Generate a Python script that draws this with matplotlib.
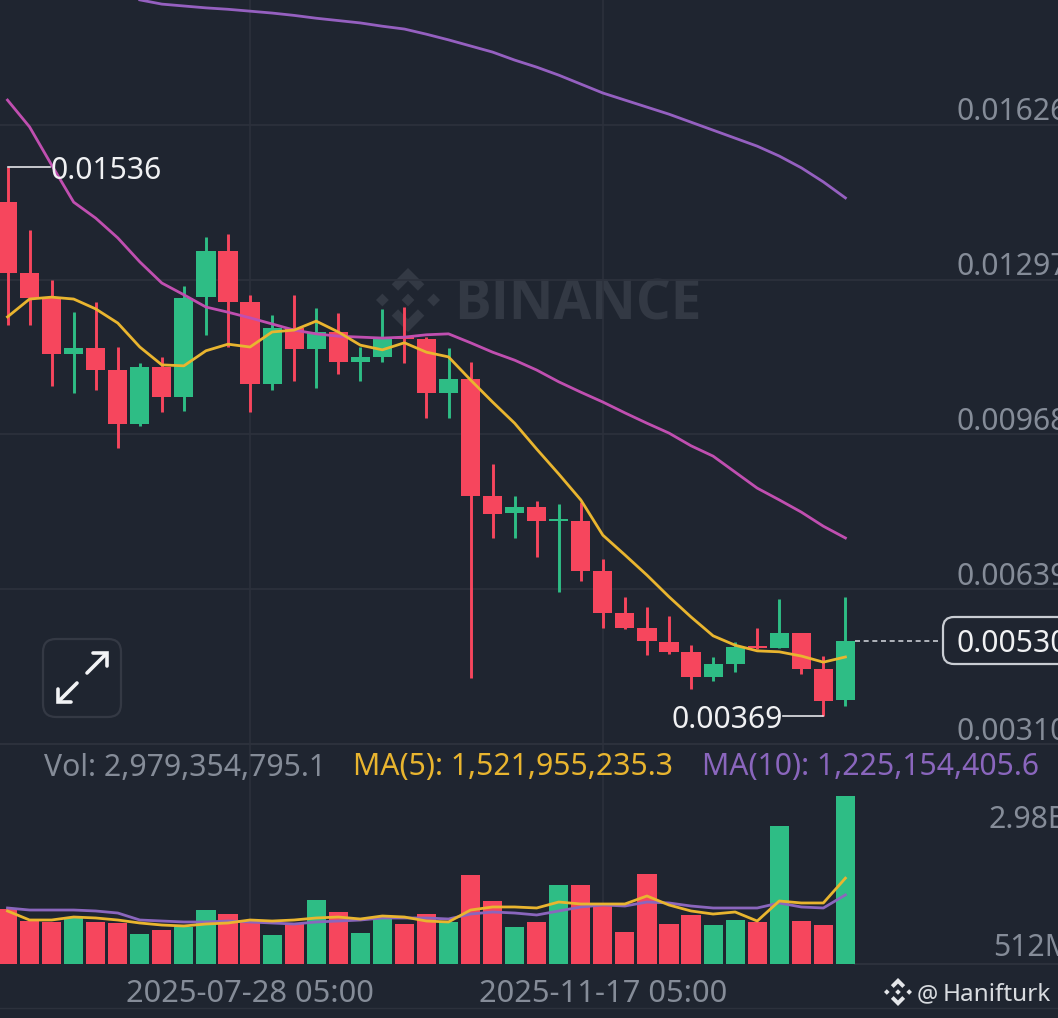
import numpy as np
import matplotlib
matplotlib.use("Agg")
import matplotlib.pyplot as plt
from matplotlib.patches import FancyBboxPatch, Polygon
from matplotlib.transforms import offset_copy

W, H, DPI = 1058, 1018, 100
plt.rcParams['font.family'] = ['Noto Sans', 'DejaVu Sans']

opens = [1463,1311,1258,1139,1152,1105,990,1112,1048,1260,1358,1250,1075,1194,1150,1186,1122,1133,1175,1171,1056,1086,
         837,801,814,784,784,678,589,557,527,506,452,480,518,514,546,469,404]
closes = [1311,1258,1139,1152,1105,990,1112,1048,1258,1358,1250,1075,1194,1150,1186,1122,1133,1173,1171,1056,1086,837,
          799,814,784,788,678,589,557,529,506,452,480,516,514,546,469,401,530]
highs = [1536,1403,1296,1228,1250,1154,1120,1133,1284,1388,1394,1265,1222,1265,1237,1226,1154,1235,1239,1175,1152,1122,
         905,837,827,820,824,703,623,601,582,520,495,527,557,618,546,497,623]
lows = [1201,1201,1071,1056,1063,939,986,1016,1018,1180,1154,1016,1063,1082,1067,1097,1082,1122,1120,1003,1003,450,
        748,748,708,633,657,557,554,499,501,427,444,463,512,514,459,369,391]
ma7 = [1218,1256,1260,1256,1235,1205,1154,1116,1114,1146,1160,1154,1186,1190,1209,1186,1158,1148,1163,1143,1133,1084,
       1037,992,937,884,829,754,712,669,623,580,540,520,508,506,497,484,495]
ma25 = [1679,1622,1541,1462,1428,1386,1335,1290,1265,1239,1228,1216,1203,1190,1182,1177,1175,1173,1175,1180,1182,1163,
        1143,1126,1105,1080,1058,1037,1014,992,971,944,922,888,854,829,803,773,748]
ma99 = [np.nan]*6 + [1892,1883,1879,1875,1872,1868,1864,1859,1853,1848,1843,1836,1830,1819,1807,1794,1781,1764,1749,1732,
                     1713,1694,1679,1664,1649,1632,1615,1598,1581,1560,1535,1505,1471]
volumes = [975,762,745,816,745,727,532,603,656,957,886,780,514,727,1135,922,550,798,709,886,745,1578,
           1117,656,745,1401,1401,1046,567,1596,709,869,691,780,745,2447,762,691,2979]
vol_ma5 = [940,780,780,833,816,780,727,691,674,709,727,780,762,780,816,833,798,851,833,762,745,957,
           1011,1011,993,1099,1064,1064,1064,1206,1046,940,886,922,762,1117,1082,1082,1522]
vol_ma10 = [993,957,957,957,940,904,780,762,745,745,762,745,727,709,745,762,780,816,816,816,798,886,
            922,904,869,940,1011,1046,1028,1099,1082,1028,993,993,993,1082,1011,993,1225]
price_ticks = [0.01626, 0.01297, 0.00968, 0.00639, 0.00310]
price_tick_labels = ['0.01626', '0.01297', '0.00968', '0.00639', '0.00310']
date_positions = [11, 27]
date_labels = ['2025-07-28 05:00', '2025-11-17 05:00']

opens, closes, highs, lows = [np.array(a) * 1e-5 for a in (opens, closes, highs, lows)]
ma7, ma25, ma99 = [np.array(a) * 1e-5 for a in (ma7, ma25, ma99)]
volumes, vol_ma5, vol_ma10 = [np.array(a) * 1e6 for a in (volumes, vol_ma5, vol_ma10)]
x = np.arange(len(opens))

BG = '#1f2530'; GRID = '#2c313c'; RED = '#f6465d'; GREEN = '#2ebd85'
YEL = '#e9b52f'; PINK = '#c04fb0'; PURP = '#9560c0'; VPURP = '#8a66bd'; GRAY = '#858c98'
FS = 21.7
VC = 'center_baseline'

fig = plt.figure(figsize=(W / DPI, H / DPI), dpi=DPI, facecolor=BG)
px_per = 22.05
xlim = (-7.5 / px_per, (W - 7.5) / px_per)

def px_ax(z):
    a = fig.add_axes([0, 0, 1, 1], zorder=z)
    a.set_xlim(0, W); a.set_ylim(H, 0); a.axis('off'); a.patch.set_alpha(0)
    return a

bg = px_ax(0)
top = px_ax(3)

def logo(a, cx, cy, r, color, zorder=1):
    parts = [[(0,-.2),(.2,0),(0,.2),(-.2,0)], [(-.8,-.2),(-.6,0),(-.8,.2),(-1,0)], [(.8,-.2),(1,0),(.8,.2),(.6,0)],
             [(0,-1),(.51,-.49),(.31,-.29),(0,-.6),(-.31,-.29),(-.51,-.49)],
             [(0,1),(.51,.49),(.31,.29),(0,.6),(-.31,.29),(-.51,.49)]]
    for p in parts:
        a.add_patch(Polygon([(cx + u * r, cy + v * r) for u, v in p], closed=True, fc=color, ec='none', zorder=zorder))

# watermark
logo(bg, 408, 300, 32, '#333944')
bg.text(454, 299, 'BINANCE', color='#333944', fontsize=39.5, fontweight='bold', va=VC, ha='left', family='Open Sans')
# separators
bg.plot([0, W], [744, 744], color=GRID, lw=1.5)
bg.plot([0, W], [1008, 1008], color=GRID, lw=1)
bg.plot([855, W], [964, 964], color=GRID, lw=1.5)

# price pane
ax = fig.add_axes([0, (H - 744) / H, 1, 744 / H], zorder=1)
ax.patch.set_alpha(0)
ax.set_xlim(*xlim)
ax.set_ylim(0.00310, 0.00310 + 744 * 2.126e-5)
ax.axis('off')
for t in price_ticks:
    ax.axhline(t, color=GRID, lw=1.3, zorder=0)
for d in date_positions:
    ax.axvline(d, color=GRID, lw=1.2, zorder=0)
colors = [GREEN if c >= o else RED for o, c in zip(opens, closes)]
ax.vlines(x, lows, highs, colors=colors, lw=2.1, zorder=2)
bot = np.minimum(opens, closes)
hgt = np.maximum(np.abs(closes - opens), 4e-5)
ax.bar(x, hgt, bottom=bot, width=0.87, color=colors, zorder=3)
ax.plot(x, ma99, color=PURP, lw=2.0, zorder=4)
ax.plot(x, ma25, color=PINK, lw=2.0, zorder=4)
ax.plot(x, ma7, color=YEL, lw=2.0, zorder=5)

tr = offset_copy(ax.transData, fig=fig, x=0, y=16, units='dots')
for t, lab in zip(price_ticks, price_tick_labels):
    ax.text(43.06, t, lab, color=GRAY, fontsize=FS, va=VC, ha='left', transform=tr, clip_on=False)

# high / low annotations
imax, imin = int(np.argmax(highs)), int(np.argmin(lows))
ax.plot([imax, imax + 1.93], [highs[imax]] * 2, color='#e3e5e8', lw=1.2, zorder=6)
ax.text(imax + 1.93, highs[imax], '0.01536', color='#f0f1f3', fontsize=FS, va=VC, ha='left', zorder=7)
ax.plot([imin, imin - 1.85], [lows[imin]] * 2, color='#e3e5e8', lw=1.2, zorder=6)
ax.text(imin - 1.85, lows[imin], '0.00369', color='#f0f1f3', fontsize=FS, va=VC, ha='right', zorder=7)
# last price dashed
ax.plot([x[-1] + .43, 42.3], [closes[-1]] * 2, color='#c9cdd3', lw=1.2, ls=(0, (3, 2.2)), zorder=2)

# volume pane
vax = fig.add_axes([0, (H - 964) / H, 1, 220 / H], zorder=1)
vax.patch.set_alpha(0)
vax.set_xlim(*xlim)
vax.set_ylim(0, 220 * 17.73e6)
vax.axis('off')
for d in date_positions:
    vax.axvline(d, color=GRID, lw=1.2, zorder=0)
vax.bar(x, volumes, width=0.87, color=colors, zorder=2)
vax.plot(x, vol_ma10, color=VPURP, lw=2.0, zorder=3)
vax.plot(x, vol_ma5, color=YEL, lw=2.0, zorder=4)
for d, lab in zip(date_positions, date_labels):
    top.text(7.5 + d * px_per, 990, lab, color=GRAY, fontsize=22.2, va=VC, ha='center')

# header and volume labels
top.text(44, 764, 'Vol: 2,979,354,795.1', color=GRAY, fontsize=FS, va=VC, ha='left')
top.text(353, 764, 'MA(5): 1,521,955,235.3', color=YEL, fontsize=FS, va=VC, ha='left')
top.text(702, 764, 'MA(10): 1,225,154,405.6', color=VPURP, fontsize=FS, va=VC, ha='left')
top.text(989, 817, '2.98B', color=GRAY, fontsize=FS, va=VC, ha='left')
top.text(993, 945, '512M', color=GRAY, fontsize=FS, va=VC, ha='left')

# last price tag
top.add_patch(FancyBboxPatch((943, 617), 140, 47, boxstyle='round,pad=0,rounding_size=11', fc=BG, ec='#c9cdd3', lw=1.6))
top.text(957, 641, '0.00530', color='#f0f1f3', fontsize=FS, va=VC, ha='left')

# expand icon
top.add_patch(FancyBboxPatch((43, 639), 78, 78, boxstyle='round,pad=0,rounding_size=13', fc=BG, ec='#343944', lw=1.6))
kw = dict(color='#f2f3f5', lw=2.6, solid_capstyle='round', solid_joinstyle='miter')
top.plot([87, 106], [673, 654], **kw)
top.plot([93, 107, 107], [653, 653, 666], **kw)
top.plot([77, 59], [683, 701], **kw)
top.plot([58, 58, 71], [689, 702, 702], **kw)

# footer
logo(top, 898, 992, 14, '#e4e6e9')
top.text(917, 992, '@', color='#d9dce0', fontsize=17, va=VC, ha='left')
top.text(943, 992, 'Hanifturk', color='#d9dce0', fontsize=17.5, va=VC, ha='left')

fig.savefig('out.png', dpi=DPI, facecolor=BG)
